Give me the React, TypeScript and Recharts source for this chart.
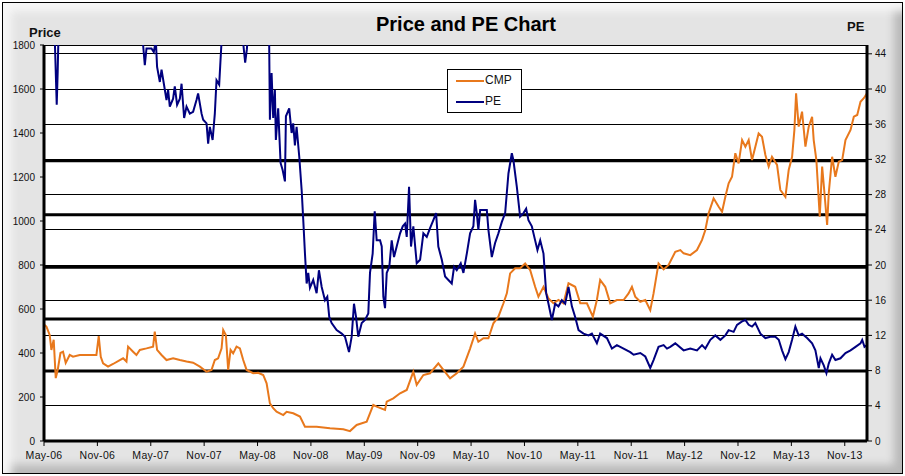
import React from "react";
import { LineChart, Line, XAxis, YAxis, CartesianGrid } from "recharts";

// months since May-06
const xTickMonths = [0, 6, 12, 18, 24, 30, 36, 42, 48, 54, 60, 66, 72, 78, 84, 90];
const xTickLabels = ["May-06", "Nov-06", "May-07", "Nov-07", "May-08", "Nov-08", "May-09", "Nov-09", "May-10", "Nov-10", "May-11", "Nov-11", "May-12", "Nov-12", "May-13", "Nov-13"];
const priceTicks = [0, 200, 400, 600, 800, 1000, 1200, 1400, 1600, 1800];
const peTicks = [0, 4, 8, 12, 16, 20, 24, 28, 32, 36, 40, 44];
const peBands = [7.95, 13.85, 19.75, 25.7, 31.85];

const cmpMonth = [0, 0.27, 0.64, 0.83, 1.09, 1.32, 1.54, 1.85, 2.14, 2.44, 2.89, 3.26, 4.02, 5.14, 5.89, 6.15, 6.38, 6.64, 7.2, 7.76, 8.52, 8.89, 9.27, 9.45, 10.01, 10.39, 10.77, 11.52, 12.26, 12.45, 12.71, 13.21, 13.77, 14.51, 15.27, 16.02, 16.76, 17.52, 18.27, 18.83, 19.2, 19.57, 19.96, 20.14, 20.44, 20.7, 20.97, 21.26, 21.64, 22.02, 22.39, 22.77, 23.51, 24.07, 24.64, 25.02, 25.39, 25.76, 26.14, 26.89, 27.27, 28.01, 28.77, 29.33, 30.64, 32.14, 33.64, 34.39, 35.14, 36.27, 37.01, 37.39, 38.33, 38.52, 39.26, 40.02, 40.77, 41.51, 41.89, 42.64, 43.39, 44.32, 44.89, 45.64, 46.39, 47.14, 47.89, 48.45, 48.82, 49.39, 49.95, 50.51, 51.07, 51.64, 52.02, 52.39, 52.95, 53.51, 54.08, 54.64, 55.2, 55.57, 56.14, 56.7, 57.26, 57.82, 58.39, 58.95, 59.7, 60.27, 61.02, 61.69, 62.14, 62.51, 63.08, 63.64, 64.39, 65.14, 65.7, 66.08, 66.45, 67.02, 67.58, 68.14, 68.51, 69.07, 69.64, 70.2, 70.95, 71.52, 71.89, 72.64, 73.39, 73.96, 74.33, 74.7, 75.26, 75.83, 76.21, 76.58, 76.95, 77.33, 77.7, 78.07, 78.46, 78.83, 79.2, 79.58, 79.95, 80.32, 80.7, 81.08, 81.45, 81.82, 82.39, 82.76, 83.33, 83.7, 84.08, 84.34, 84.53, 84.82, 85.2, 85.58, 85.95, 86.33, 86.51, 86.81, 87.19, 87.46, 87.72, 88.02, 88.2, 88.58, 88.95, 89.33, 89.71, 90.08, 90.65, 91.02, 91.4, 91.77, 92.14, 92.5];
const cmpPrice = [530, 520, 482, 414, 460, 286, 323, 400, 406, 355, 391, 383, 391, 391, 391, 477, 383, 353, 338, 350, 368, 376, 361, 429, 406, 391, 414, 421, 429, 497, 414, 391, 368, 376, 368, 361, 356, 338, 315, 323, 368, 376, 421, 505, 482, 323, 414, 398, 429, 421, 368, 323, 308, 310, 300, 262, 171, 149, 133, 118, 133, 126, 111, 65, 65, 58, 53, 45, 73, 88, 164, 156, 141, 179, 194, 217, 232, 315, 255, 300, 308, 353, 323, 285, 308, 338, 420, 489, 451, 467, 467, 535, 565, 626, 671, 762, 785, 785, 807, 777, 701, 656, 701, 648, 626, 641, 626, 717, 701, 626, 626, 565, 641, 732, 701, 626, 641, 641, 671, 701, 656, 633, 641, 595, 671, 807, 780, 800, 860, 868, 853, 845, 868, 914, 959, 1035, 1103, 1065, 1042, 1110, 1171, 1201, 1308, 1262, 1368, 1338, 1368, 1277, 1338, 1398, 1383, 1300, 1247, 1292, 1255, 1141, 1110, 1232, 1292, 1414, 1580, 1429, 1497, 1338, 1429, 1474, 1368, 1277, 1020, 1247, 1126, 982, 1126, 1292, 1201, 1270, 1277, 1368, 1414, 1474, 1482, 1542, 1558, 1580];

const peMonth = [0, 1.09, 1.26, 1.43, 1.54, 1.71, 6.27, 10.99, 11.14, 11.33, 11.52, 12.08, 12.34, 12.57, 12.71, 13.02, 13.21, 13.47, 13.77, 13.95, 14.14, 14.51, 14.7, 14.96, 15.27, 15.46, 15.75, 16.02, 16.39, 16.76, 17.14, 17.32, 17.71, 17.89, 18.27, 18.45, 18.64, 18.95, 19.2, 19.39, 19.69, 19.84, 19.99, 21.12, 22.24, 22.41, 22.61, 22.8, 22.97, 24.04, 25.17, 25.31, 25.39, 25.58, 25.76, 25.95, 26.06, 26.32, 26.59, 26.82, 27.08, 27.19, 27.56, 27.83, 28.01, 28.2, 28.39, 28.69, 28.96, 29.14, 29.33, 29.52, 29.7, 29.89, 30.26, 30.64, 30.9, 31.21, 31.58, 31.84, 32.06, 32.33, 32.89, 33.46, 33.83, 34.28, 34.58, 34.84, 35.07, 35.32, 35.71, 36.08, 36.45, 36.64, 36.94, 37.17, 37.39, 37.77, 37.96, 38.14, 38.33, 38.52, 38.81, 39.08, 39.34, 39.64, 40.02, 40.32, 40.58, 40.77, 41.03, 41.25, 41.51, 41.89, 42.27, 42.64, 43.02, 43.39, 43.76, 44.07, 44.32, 44.71, 45.08, 45.45, 45.83, 46.09, 46.39, 46.84, 47.14, 47.52, 47.89, 48.26, 48.45, 48.64, 48.82, 49.02, 49.77, 49.95, 50.33, 50.7, 51.07, 51.46, 51.83, 52.2, 52.58, 52.76, 53.14, 53.51, 53.89, 54.19, 54.45, 54.83, 55.2, 55.46, 55.77, 56.14, 56.44, 56.7, 57.08, 57.45, 57.82, 58.2, 58.58, 58.95, 59.33, 59.7, 60.08, 60.64, 61.2, 61.58, 62.14, 62.51, 63.27, 63.83, 64.39, 65.14, 65.89, 66.27, 67.02, 67.58, 68.14, 68.51, 69.07, 69.64, 70.02, 70.39, 70.95, 71.89, 72.64, 73.39, 73.96, 74.33, 74.89, 75.45, 76.02, 76.58, 76.95, 77.51, 77.89, 78.46, 78.83, 79.2, 79.58, 79.95, 80.52, 81.08, 81.64, 82.2, 82.58, 82.95, 83.33, 83.7, 84.08, 84.45, 84.82, 85.2, 85.77, 86.33, 86.7, 87.08, 87.27, 87.64, 87.94, 88.2, 88.58, 88.95, 89.52, 90.08, 90.65, 91.21, 91.77, 91.96, 92.22, 92.5];
const peValue = [50, 50, 44, 38.2, 42, 50, 50, 50, 45, 42.7, 44.6, 44.6, 44.2, 45.5, 42.5, 40.8, 42.2, 40.6, 38.75, 39.9, 38, 38.9, 40.3, 38.2, 38.9, 40.6, 36.7, 38, 37.2, 37.4, 38.75, 39.5, 37.2, 36.5, 36.1, 33.8, 35.7, 34.2, 37.2, 41, 40.5, 43.3, 46, 50, 50, 45, 43, 44.5, 47, 50, 50, 45, 36.5, 41.8, 36.7, 39.9, 34.2, 37.8, 31.6, 30.8, 29.5, 36.9, 37.8, 35, 36.1, 33.6, 35.7, 32.3, 28.5, 25.1, 21.3, 17.9, 19.1, 17.4, 18.3, 16.8, 19.4, 17.5, 16, 16.4, 14.1, 13.4, 12.6, 12.2, 11.85, 10.1, 11.85, 15.6, 14.1, 11.85, 13.4, 13.75, 14.5, 19.1, 21.3, 26.1, 22.8, 22.8, 22.1, 16.4, 15.1, 19.1, 19.8, 22.8, 20.9, 22.1, 23.6, 24.4, 24.7, 23.2, 28.9, 22.1, 24.4, 20.2, 20.6, 23.6, 23.2, 24.2, 25.1, 25.9, 22.1, 20.6, 18.7, 18.3, 17.9, 19.8, 19.4, 20.2, 19.1, 21.3, 23.6, 24.4, 27.4, 25.9, 24, 26.25, 26.25, 24, 20.9, 22.5, 23.6, 24.9, 25.9, 30.4, 32.7, 31.9, 28.9, 25.5, 25.9, 26.4, 25.1, 24.4, 22.8, 21.7, 22.8, 21.3, 16.8, 15.6, 13.75, 15.6, 15.3, 16, 15.6, 17.5, 15.3, 14.1, 12.6, 12.2, 12, 12.2, 11.1, 12.2, 11.7, 10.5, 10.9, 10.5, 10.1, 9.8, 10, 9.6, 8.3, 9.2, 10.7, 10.9, 10.5, 10.7, 11.1, 10.3, 10.5, 10.3, 10.9, 10.5, 11.5, 12, 11.5, 12, 12.6, 12.4, 13.2, 13.6, 13.75, 13.2, 13, 13.4, 12.2, 11.7, 11.85, 11.85, 11.5, 10.3, 9.3, 10.1, 11.5, 13, 12, 12.2, 11.7, 11.1, 10.3, 8.3, 9.4, 8.6, 7.7, 8.8, 9.8, 9.2, 9.4, 10, 10.3, 10.7, 11.1, 11.5, 10.7, 10.9];

const cmpData = cmpMonth.map((m, i) => ({ m, v: cmpPrice[i] }));
const peData = peMonth.map((m, i) => ({ m, v: peValue[i] }));
// band lines drawn as plain series so the data lines sit on top of them
const bandData = peBands.map((b) => [{ m: 0, v: b }, { m: 92.5, v: b }]);

const FONT = "Arial, 'Liberation Sans', sans-serif";
const ORANGE = "#E8781C";
const NAVY = "#00007F";

export default function App() {
  const tickStyle = { fill: "#111", fontSize: 10, fontFamily: FONT };
  return (
    <div style={{ position: "fixed", left: 0, top: 0, width: 905, height: 476, background: "#fff", fontFamily: FONT }}>
      <div
        style={{
          position: "absolute",
          left: 2,
          top: 2,
          width: 899,
          height: 470,
          border: "1.5px solid #000",
          background: "#e4e4e4",
          boxShadow: "inset 10px 10px 8px -2px #f7f7f7, inset -10px -10px 8px -2px #b9b9b9",
        }}
      />
      <div style={{ position: "absolute", left: 0, width: 932, top: 13, textAlign: "center", fontSize: 20, fontWeight: 700, color: "#000" }}>
        Price and PE Chart
      </div>
      <div style={{ position: "absolute", left: 29, top: 25, fontSize: 13, fontWeight: 700, color: "#111" }}>Price</div>
      <div style={{ position: "absolute", left: 847, top: 19, fontSize: 13, fontWeight: 700, color: "#111" }}>PE</div>
      <div style={{ position: "absolute", left: 0, top: 0 }}>
        <LineChart width={905} height={476} margin={{ top: 45, right: 0, bottom: 0, left: 0 }}>
          <CartesianGrid yAxisId="pe" vertical={false} stroke="#000" strokeWidth={1} fill="#fff" fillOpacity={1} shapeRendering="crispEdges" />
          <XAxis
            type="number"
            dataKey="m"
            domain={[0, 92.5]}
            ticks={xTickMonths}
            tickFormatter={(v: number) => xTickLabels[xTickMonths.indexOf(v)] ?? ""}
            height={35}
            tickSize={5}
            tickMargin={6}
            axisLine={{ stroke: "#000", strokeWidth: 3 }}
            tickLine={{ stroke: "#000" }}
            tick={{ ...tickStyle, fontSize: 10.5, letterSpacing: 0.3 }}
            interval={0}
            allowDataOverflow
          />
          <XAxis xAxisId="top" orientation="top" type="number" domain={[0, 92.5]} height={0} tick={false} tickLine={false} axisLine={{ stroke: "#000", strokeWidth: 3 }} />
          <YAxis
            yAxisId="price"
            domain={[0, 1800]}
            ticks={priceTicks}
            width={44}
            tickSize={4}
            tickMargin={5}
            axisLine={{ stroke: "#000", strokeWidth: 3 }}
            tickLine={{ stroke: "#000" }}
            tick={tickStyle}
            interval={0}
          />
          <YAxis
            yAxisId="pe"
            orientation="right"
            domain={[0, 45]}
            ticks={peTicks}
            width={38}
            tickSize={5}
            tickMargin={3}
            axisLine={{ stroke: "#000", strokeWidth: 3 }}
            tickLine={{ stroke: "#000" }}
            tick={tickStyle}
            interval={0}
            allowDataOverflow
          />
          {bandData.map((d, i) => (
            <Line key={i} data={d} yAxisId="pe" dataKey="v" stroke="#000" strokeWidth={3} dot={false} activeDot={false} isAnimationActive={false} legendType="none" />
          ))}
          <Line data={cmpData} yAxisId="price" dataKey="v" type="linear" stroke={ORANGE} strokeWidth={2} dot={false} isAnimationActive={false} />
          <Line data={peData} yAxisId="pe" dataKey="v" type="linear" stroke={NAVY} strokeWidth={2} dot={false} isAnimationActive={false} />
        </LineChart>
      </div>
      <div
        style={{
          position: "absolute",
          left: 447,
          top: 69,
          width: 73,
          height: 42,
          border: "1px solid #000",
          background: "#fff",
          fontSize: 12,
          color: "#111",
        }}
      >
        <div style={{ position: "absolute", left: 8, top: 10, width: 28, height: 2, background: ORANGE }} />
        <div style={{ position: "absolute", left: 37, top: 3 }}>CMP</div>
        <div style={{ position: "absolute", left: 8, top: 31, width: 28, height: 2, background: NAVY }} />
        <div style={{ position: "absolute", left: 37, top: 24 }}>PE</div>
      </div>
    </div>
  );
}
